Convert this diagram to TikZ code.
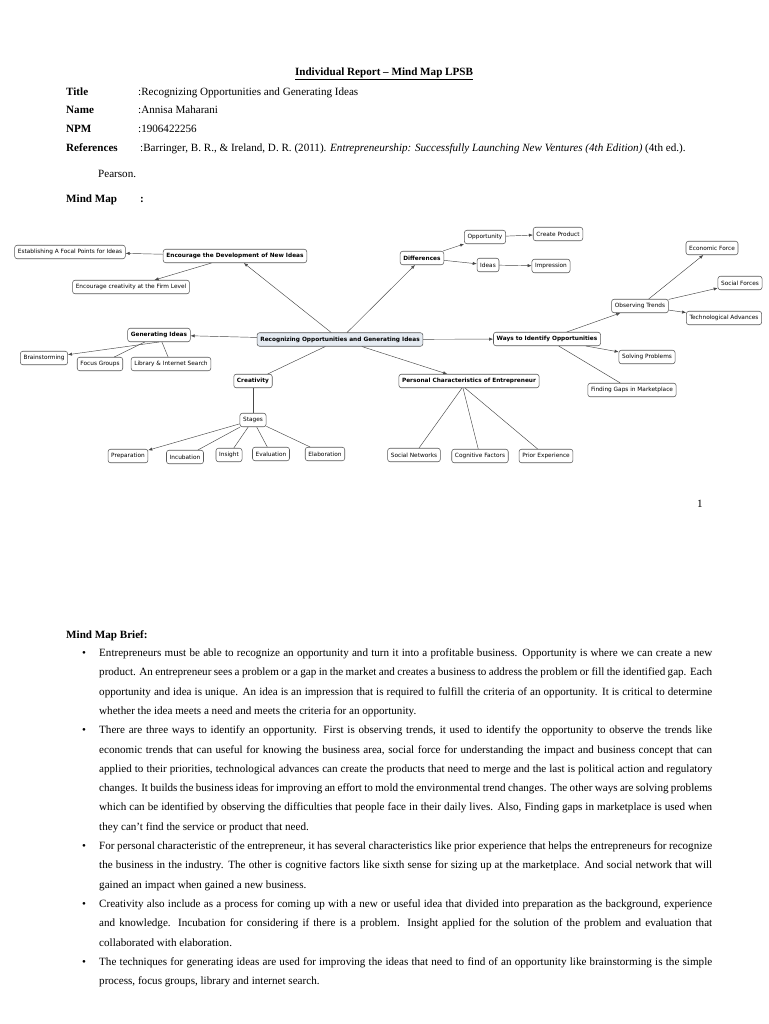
\documentclass[tikz,border=0pt]{standalone}
\usepackage{fontspec}
\setmainfont{Liberation Serif}
\newfontfamily\mapfont{DejaVu Sans}
\usetikzlibrary{arrows.meta}
\definecolor{mapline}{rgb}{0.28,0.28,0.28}
\definecolor{mapborder}{rgb}{0.35,0.35,0.35}
\definecolor{rootfill}{rgb}{0.9,0.92,0.95}
\newcommand{\jline}[1]{\hbox to 613pt{#1}}

\begin{document}
\begin{tikzpicture}[x=1pt,y=-1pt,
    concept/.style={draw=mapborder,line width=0.55pt,rounded corners=2.5pt,fill=white,
      font=\mapfont\fontsize{5.8}{6.5}\selectfont,inner xsep=3.2pt,inner ysep=0pt,minimum height=13.5pt},
    mainconcept/.style={concept,font=\mapfont\bfseries\fontsize{5.8}{6.5}\selectfont},
    rootconcept/.style={mainconcept,fill=rootfill},
    link/.style={draw=mapline,line width=0.45pt},
    arrowlink/.style={link,-{Latex[length=4pt,width=3.2pt]}},
    doctext/.style={anchor=base west,inner sep=0pt,font=\fontsize{11.1}{13}\selectfont},
    bullet/.style={anchor=base,inner sep=0pt,font=\fontsize{11.1}{13}\selectfont}]
    \pgfmathsetmacro{\bodyskip}{19.3} % line distance of the brief
    \pgfmathsetmacro{\bodytop}{656.5} % baseline of its first line

    \useasboundingbox (0,0) rectangle (768,1024);
    \fill[white] (0,0) rectangle (768,1024);

    % header of the report
    \node[doctext,anchor=base] (heading) at (384,75.5) {\bfseries\underline{Individual Report – Mind Map LPSB}};
    \node[doctext] (titlekey) at (66,95.5) {\bfseries Title};
    \node[doctext] (titleval) at (138,95.5) {:Recognizing Opportunities and Generating Ideas};
    \node[doctext] (namekey) at (66,113.5) {\bfseries Name};
    \node[doctext] (nameval) at (138,113.5) {:Annisa Maharani};
    \node[doctext] (npmkey) at (66,132.5) {\bfseries NPM};
    \node[doctext] (npmval) at (138,132.5) {:1906422256};
    \node[doctext] (refkey) at (66,151.5) {\bfseries References};
    \node[doctext] (refval) at (140,151.5) {:Barringer, B. R., \& Ireland, D. R. (2011). \textit{Entrepreneurship: Successfully Launching New Ventures (4th Edition)} (4th ed.).};
    \node[doctext] (refcont) at (98,177.5) {Pearson.};
    \node[doctext] (mapkey) at (66,202.5) {\bfseries Mind Map};
    \node[doctext] (mapcolon) at (140,202.5) {\bfseries :};

    % concepts of the mind map
    \node[rootconcept] (root) at (340,339.5) {Recognizing Opportunities and Generating Ideas};
    \node[mainconcept] (develop) at (235,256) {Encourage the Development of New Ideas};
    \node[concept] (focal) at (70,252) {Establishing A Focal Points for Ideas};
    \node[concept] (firm) at (131,287) {Encourage creativity at the Firm Level};
    \node[mainconcept] (generating) at (159,335) {Generating Ideas};
    \node[concept] (brainstorm) at (44,358) {Brainstorming};
    \node[concept] (focus) at (100,364) {Focus Groups};
    \node[concept] (library) at (171,364) {Library \& Internet Search};
    \node[mainconcept] (creativity) at (253,381) {Creativity};
    \node[concept] (stages) at (253,420) {Stages};
    \node[concept] (preparation) at (128,456) {Preparation};
    \node[concept] (incubation) at (185,457) {Incubation};
    \node[concept] (insight) at (229,455) {Insight};
    \node[concept] (evaluation) at (271,454) {Evaluation};
    \node[concept] (elaboration) at (325,454) {Elaboration};
    \node[mainconcept] (personal) at (469,381) {Personal Characteristics of Entrepreneur};
    \node[concept] (network) at (414,455) {Social Networks};
    \node[concept] (cognitive) at (480,456) {Cognitive Factors};
    \node[concept] (prior) at (546,456) {Prior Experience};
    \node[mainconcept] (differences) at (422,258) {Differences};
    \node[concept] (opportunity) at (485,237) {Opportunity};
    \node[concept] (product) at (558,234) {Create Product};
    \node[concept] (ideas) at (488,265) {Ideas};
    \node[concept] (impression) at (551,266) {Impression};
    \node[mainconcept] (ways) at (547,339) {Ways to Identify Opportunities};
    \node[concept] (trends) at (640,306) {Observing Trends};
    \node[concept] (economic) at (712,248) {Economic Force};
    \node[concept] (social) at (740,283) {Social Forces};
    \node[concept] (tech) at (724,318) {Technological Advances};
    \node[concept] (solving) at (647,357) {Solving Problems};
    \node[concept] (gaps) at (632,390) {Finding Gaps in Marketplace};

    % links with an arrow
    \draw[arrowlink] (root) -- (develop);
    \draw[arrowlink] (develop) -- (focal);
    \draw[arrowlink] (develop) -- (firm);
    \draw[arrowlink] (root) -- (generating);
    \draw[arrowlink] (generating.south) -- (brainstorm);
    \draw[arrowlink] (root) -- (differences);
    \draw[arrowlink] (differences) -- (opportunity);
    \draw[arrowlink] (differences) -- (ideas);
    \draw[arrowlink] (opportunity) -- (product);
    \draw[arrowlink] (ideas) -- (impression);
    \draw[arrowlink] (root) -- (ways);
    \draw[arrowlink] (ways) -- (trends);
    \draw[arrowlink] (trends) -- (economic);
    \draw[arrowlink] (trends) -- (social);
    \draw[arrowlink] (trends) -- (tech);
    \draw[arrowlink] (ways) -- (solving);
    \draw[arrowlink] (root) -- (personal);
    \draw[arrowlink] (stages) -- (preparation);

    % plain links
    \draw[link] (generating) -- (focus);
    \draw[link] (generating) -- (library);
    \draw[link] (ways) -- (gaps);
    \draw[link] ([xshift=-7pt]personal.south) -- (network);
    \draw[link] ([xshift=-6pt]personal.south) -- (cognitive);
    \draw[link] ([xshift=-4pt]personal.south) -- (prior);
    \draw[link] (root) -- (creativity);
    \draw[link] (creativity) -- (stages);
    \foreach \stage in {incubation,insight,evaluation,elaboration}
      \draw[link] (stages) -- (\stage);

    \node[doctext,anchor=base] (pagenum) at (700,507.5) {1};

    % the brief on the next page
    \node[doctext] (briefkey) at (66,638.5) {\bfseries Mind Map Brief:};
    \foreach \k in {0,4,10,13,16}
      \node[bullet] (bullet\k) at (84,{\bodytop+\k*\bodyskip}) {\textbullet};
    \node[doctext] (line1) at (99,{\bodytop}) {\jline{Entrepreneurs must be able to recognize an opportunity and turn it into a profitable business. Opportunity is where we can create a new}};
    \node[doctext] (line2) at (99,{\bodytop+1*\bodyskip}) {\jline{product. An entrepreneur sees a problem or a gap in the market and creates a business to address the problem or fill the identified gap. Each}};
    \node[doctext] (line3) at (99,{\bodytop+2*\bodyskip}) {\jline{opportunity and idea is unique. An idea is an impression that is required to fulfill the criteria of an opportunity. It is critical to determine}};
    \node[doctext] (line4) at (99,{\bodytop+3*\bodyskip}) {whether the idea meets a need and meets the criteria for an opportunity.};
    \node[doctext] (line5) at (99,{\bodytop+4*\bodyskip}) {\jline{There are three ways to identify an opportunity. First is observing trends, it used to identify the opportunity to observe the trends like}};
    \node[doctext] (line6) at (99,{\bodytop+5*\bodyskip}) {\jline{economic trends that can useful for knowing the business area, social force for understanding the impact and business concept that can}};
    \node[doctext] (line7) at (99,{\bodytop+6*\bodyskip}) {\jline{applied to their priorities, technological advances can create the products that need to merge and the last is political action and regulatory}};
    \node[doctext] (line8) at (99,{\bodytop+7*\bodyskip}) {\jline{changes. It builds the business ideas for improving an effort to mold the environmental trend changes. The other ways are solving problems}};
    \node[doctext] (line9) at (99,{\bodytop+8*\bodyskip}) {\jline{which can be identified by observing the difficulties that people face in their daily lives. Also, Finding gaps in marketplace is used when}};
    \node[doctext] (line10) at (99,{\bodytop+9*\bodyskip}) {they can’t find the service or product that need.};
    \node[doctext] (line11) at (99,{\bodytop+10*\bodyskip}) {\jline{For personal characteristic of the entrepreneur, it has several characteristics like prior experience that helps the entrepreneurs for recognize}};
    \node[doctext] (line12) at (99,{\bodytop+11*\bodyskip}) {\jline{the business in the industry. The other is cognitive factors like sixth sense for sizing up at the marketplace. And social network that will}};
    \node[doctext] (line13) at (99,{\bodytop+12*\bodyskip}) {gained an impact when gained a new business.};
    \node[doctext] (line14) at (99,{\bodytop+13*\bodyskip}) {\jline{Creativity also include as a process for coming up with a new or useful idea that divided into preparation as the background, experience}};
    \node[doctext] (line15) at (99,{\bodytop+14*\bodyskip}) {\jline{and knowledge. Incubation for considering if there is a problem. Insight applied for the solution of the problem and evaluation that}};
    \node[doctext] (line16) at (99,{\bodytop+15*\bodyskip}) {collaborated with elaboration.};
    \node[doctext] (line17) at (99,{\bodytop+16*\bodyskip}) {\jline{The techniques for generating ideas are used for improving the ideas that need to find of an opportunity like brainstorming is the simple}};
    \node[doctext] (line18) at (99,{\bodytop+17*\bodyskip}) {process, focus groups, library and internet search.};
\end{tikzpicture}
\end{document}
